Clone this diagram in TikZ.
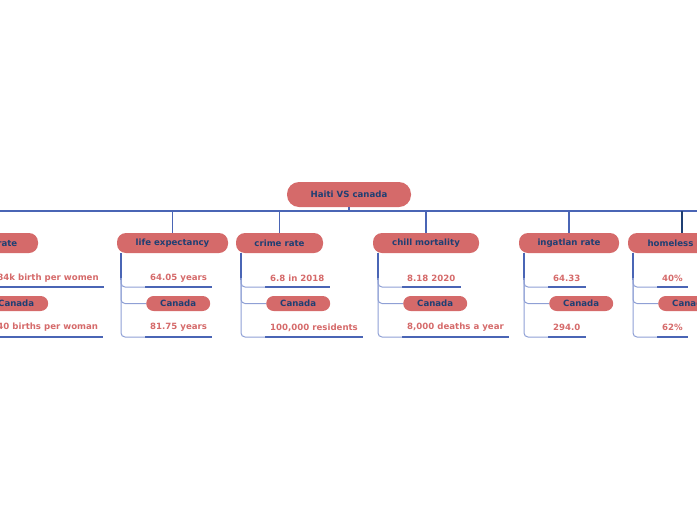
\documentclass[tikz,border=0pt]{standalone}
\usepackage{fontspec}
\setmainfont{DejaVu Sans}
\begin{document}
\begin{tikzpicture}[x=1pt,y=-1pt,
  font=\bfseries\fontsize{8.6}{10}\selectfont,
  pill/.style={fill=nodered,rounded corners=9pt,text=navy,inner sep=0pt,minimum height=20pt},
  root/.style={pill,minimum height=25pt,rounded corners=12pt},
  canada/.style={fill=nodered,rounded corners=7.5pt,text=navy,inner sep=0pt,minimum height=15pt,minimum width=64pt},
  leaf/.style={text=nodered,inner sep=0pt,anchor=west},
  bus/.style={draw=busblue,line width=1.8pt,rounded corners=4pt},
  arm/.style={draw=armblue,line width=1pt,rounded corners=4pt},
  uline/.style={draw=busblue,line width=2pt}]
\definecolor{nodered}{HTML}{D56A6A}
\definecolor{navy}{HTML}{1F3F73}
\definecolor{busblue}{HTML}{4A65B5}
\definecolor{armblue}{HTML}{8FA0D5}
\useasboundingbox (0,0) rectangle (697,520);
\clip (0,0) rectangle (697,520);
\node[root,minimum width=124pt] (root) at (349,194.5) {Haiti VS canada};
\coordinate (busL) at (-100,211);
\coordinate (busR) at (800,211);
\draw[bus] (busL) -- (busR);
\draw[bus] (root.south) -- (349,211);
\foreach \n/\cx/\w/\lx/\t/\a/\b/\col in {
  b1/-6/88/-41/birth rate/1.84k birth per women/1.40 births per woman/busblue,
  b2/172.5/111/121/life expectancy/64.05 years/81.75 years/busblue,
  b3/279.5/87/241/crime rate/6.8 in 2018/{100,000 residents}/busblue,
  b4/426/106/378/chill mortality/8.18 2020/{8,000 deaths a year}/busblue,
  b5/569/100/524/ingatlan rate/64.33/294.0/busblue,
  b6/682/108/633/homeless rate/40\%/62\%/navy}{
  \node[pill,minimum width=\w pt] (\n) at (\cx,243) {\t};
  \coordinate (\n top) at (\cx,211);
  \draw[bus,draw=\col,rounded corners=3pt] (\n top) -- (\n.north);
  \node[leaf] (\n a) at (\lx+29,278) {\a};
  \node[canada,anchor=west] (\n c) at (\lx+25,303.5) {Canada};
  \node[leaf] (\n b) at (\lx+29,327.5) {\b};
  \coordinate (\n s) at (\lx,253);
  \coordinate (\n ua) at (\lx+24,287);
  \coordinate (\n ub) at (\lx+24,337);
  \draw[uline] (\n ua) -- (\n a.east |- \n ua) -- ++(5,0);
  \draw[uline] (\n ub) -- (\n b.east |- \n ub) -- ++(5,0);
  \draw[arm,draw=busblue,line width=1.4pt] (\n s) -- (\lx,280);
  \draw[arm] (\lx,278) |- (\n ua);
  \draw[arm] (\lx,278) |- (\n c.west);
  \draw[arm] (\lx,278) |- (\n ub);
}
\end{tikzpicture}
\end{document}
